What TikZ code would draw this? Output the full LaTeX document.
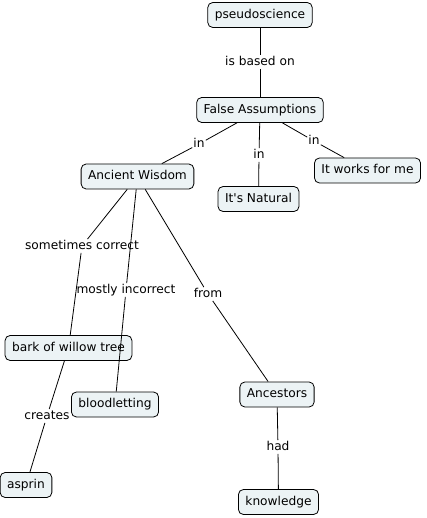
\documentclass[tikz,border=0pt]{standalone}
\usepackage{fontspec}
\newfontfamily\vfont{DejaVu Sans}
\begin{document}
\begin{tikzpicture}[x=1pt,y=-1pt,
  concept/.style={draw=black, line width=0.8pt, rounded corners=5pt, fill={rgb,255:red,236;green,243;blue,245},
    font=\vfont\fontsize{12.2}{14}\selectfont, inner xsep=7pt, inner ysep=0pt, minimum height=25pt, text height=9pt, text depth=2.5pt},
  lbl/.style={font=\vfont\fontsize{12.2}{14}\selectfont, inner sep=1pt, text height=9pt, text depth=2.5pt},
  conn/.style={line width=0.8pt}]
\useasboundingbox (0,0) rectangle (426,518);
\node[concept] (ps) at (260,15) {pseudoscience};
\node[concept] (fa) at (260,110) {False Assumptions};
\node[concept] (aw) at (137.5,176.5) {Ancient Wisdom};
\node[concept] (nat) at (258.5,199) {It's Natural};
\node[concept] (wfm) at (367.5,170.5) {It works for me};
\node[concept] (bark) at (68.5,348) {bark of willow tree};
\node[concept] (blood) at (115,404.5) {bloodletting};
\node[concept] (asp) at (26,485) {asprin};
\node[concept] (anc) at (277,394.5) {Ancestors};
\node[concept] (know) at (278.5,502) {knowledge};

\node[lbl] (l1) at (260,62) {is based on};
\node[lbl] (l2) at (199,144) {in};
\node[lbl] (l3) at (259,155) {in};
\node[lbl] (l4) at (314,141) {in};
\node[lbl] (l5) at (82,246) {sometimes correct};
\node[lbl] (l6) at (126,290) {mostly incorrect};
\node[lbl] (l7) at (208,294) {from};
\node[lbl] (l8) at (47,416) {creates};
\node[lbl] (l9) at (278,447) {had};

\draw[conn] (ps) -- (l1) -- (fa);
\draw[conn] (fa) -- (l2) -- (aw);
\draw[conn] (fa) -- (l3) -- (nat);
\draw[conn] (fa) -- (l4) -- (wfm);
\draw[conn] (aw) -- (l5) -- (bark);
\draw[conn] (aw) -- (l6) -- (blood);
\draw[conn] (aw) -- (l7) -- (anc);
\draw[conn] (bark) -- (l8) -- (asp);
\draw[conn] (anc) -- (l9) -- (know);
\end{tikzpicture}
\end{document}
